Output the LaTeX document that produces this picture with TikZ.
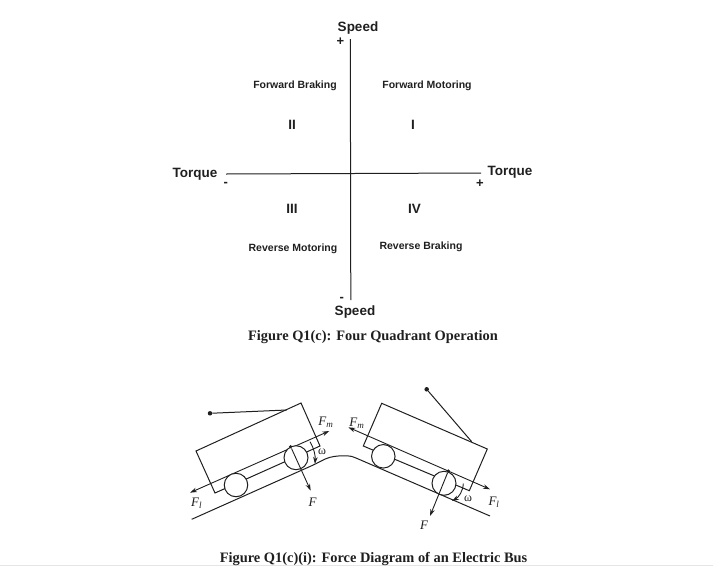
\documentclass[tikz,border=0pt]{standalone}
\usepackage{fontspec}
\setmainfont{Liberation Serif}
\newfontfamily\hv{Liberation Sans}
\usetikzlibrary{arrows.meta}
\definecolor{ink}{gray}{0.12}
\tikzset{
 qlabel/.style={font=\hv\bfseries\fontsize{10.5}{12}\selectfont,inner sep=0pt,text=ink},
 numeral/.style={font=\hv\bfseries\fontsize{13.5}{15}\selectfont,inner sep=0pt,text=ink},
 signmark/.style={font=\hv\bfseries\fontsize{13}{15}\selectfont,inner sep=0pt,text=ink},
 axlabel/.style={font=\hv\bfseries\fontsize{13.5}{16}\selectfont,inner sep=0pt,text=ink},
 caption/.style={font=\bfseries\fontsize{14.4}{18}\selectfont,inner sep=0pt,text=ink},
 fsym/.style={font=\itshape\fontsize{13}{15}\selectfont,inner sep=0pt,text=ink},
 om/.style={font=\fontsize{12}{14}\selectfont,inner sep=0pt,text=ink},
 axisline/.style={line width=1pt,ink},
 bus/.style={line width=1pt,ink},
 force/.style={line width=0.9pt,ink,-{Stealth[length=7pt,width=4.5pt]}},
 twoforce/.style={line width=0.9pt,ink,{Stealth[length=7pt,width=4.5pt]}-{Stealth[length=7pt,width=4.5pt]}},
 dotb/.style={circle,fill=ink,inner sep=0pt,minimum size=4.5pt},
 wheel/.style={circle,draw=ink,line width=1pt,fill=white,inner sep=0pt}
}
\begin{document}
\begin{tikzpicture}[x=1pt,y=-1pt]
\useasboundingbox (0,0) rectangle (713,579);
\coordinate (sl) at (0,565); \coordinate (sr) at (713,565);
\draw[black!10,line width=0.8pt] (sl) -- (sr);
% quadrant axes
\coordinate (vt) at (350.3,39); \coordinate (vb) at (350.8,300);
\coordinate (hl) at (226,174); \coordinate (hr) at (481,173);
\draw[axisline] (vt) -- (vb);
\draw[axisline] (hl) -- (hr);
\node[axlabel] (st) at (358,28.5) {Speed};
\node[axlabel] (sb) at (355,312) {Speed};
\node[axlabel] (tl) at (195,174.5) {Torque};
\node[axlabel] (tr) at (510,172.5) {Torque};
\node[signmark] (pt) at (340.5,41.5) {+};
\node[signmark] (mb) at (341.7,299) {-};
\node[signmark] (ml) at (225.7,184) {-};
\node[signmark] (pr) at (480,184) {+};
\node[qlabel] at (295,85.5) {Forward Braking};
\node[qlabel] at (427,86) {Forward Motoring};
\node[qlabel] at (293,248.5) {Reverse Motoring};
\node[qlabel] at (421,246.5) {Reverse Braking};
\node[numeral] at (292,125) {II};
\node[numeral] at (413,125) {I};
\node[numeral] at (292,209) {III};
\node[numeral] at (414.5,209) {IV};
\node[caption] at (373,337) {Figure Q1(c): Four Quadrant Operation};
% left bus
\draw[bus] (215,493) -- (196,451) -- (301,403) -- (320,446) -- cycle;
\coordinate (lh) at (286.7,410);
\node[dotb] (ld) at (210,413.3) {};
\draw[bus] (ld) -- (lh);
\draw[twoforce] (190,492.7) -- (329.3,431);
\node[wheel,minimum size=23.5pt] (lw1) at (236,485) {};
\node[wheel,minimum size=24pt] (lw2) at (296,457.7) {};
\coordinate (lg) at (191.7,519.3);
\coordinate (rg) at (490,516);
\draw[bus] (lg) -- (313.3,465) .. controls (322,461) and (326,457) .. (338,456) .. controls (346,456) and (350,455) .. (356,458) -- (rg);
\node[dotb,minimum size=3.5pt] (lf) at (290.7,446.7) {};
\coordinate (lft) at (310.7,490.7);
\draw[force] (lf) -- (lft);
\coordinate (loa) at (310,441.7); \coordinate (lob) at (315,464);
\draw[force] (loa) .. controls (314,448) and (315.5,456) .. (lob);
\node[om] at (322,452) {ω};
\node[fsym] at (326,422) {F\textsubscript{m}};
\node[fsym] at (196.7,503) {F\textsubscript{l}};
\node[fsym] at (312.7,502) {F};
% right bus
\draw[bus] (363.3,446) -- (381.7,403.3) -- (487.3,449) -- (469.3,490.7) -- cycle;
\coordinate (rh) at (471.7,441.7);
\node[dotb] (rd) at (426.7,389.3) {};
\draw[bus] (rd) -- (rh);
\draw[twoforce] (348.3,427.3) -- (490,489.3);
\node[wheel,minimum size=23.5pt] (rw1) at (383.3,456.3) {};
\node[wheel,minimum size=24pt] (rw2) at (444,483.3) {};
\node[dotb,minimum size=3.5pt] (rf) at (448.3,471) {};
\coordinate (rft) at (430,516);
\draw[force] (rf) -- (rft);
\coordinate (roa) at (463.3,483.5); \coordinate (rob) at (452,501);
\draw[force] (roa) .. controls (463,491) and (459,497) .. (rob);
\node[om] at (468,499) {ω};
\node[fsym] at (357,423) {F\textsubscript{m}};
\node[fsym] at (494,502) {F\textsubscript{l}};
\node[fsym] at (424,525) {F};
\node[caption] at (373.5,559) {Figure Q1(c)(i): Force Diagram of an Electric Bus};
\end{tikzpicture}
\end{document}
